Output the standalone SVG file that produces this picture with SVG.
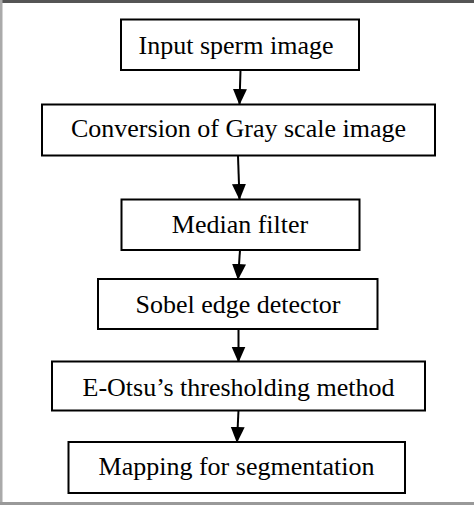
<svg xmlns="http://www.w3.org/2000/svg" width="474" height="505" viewBox="0 0 474 505">
<style>
.box{fill:#fff;stroke:#000;stroke-width:2}
.lbl{font-family:"Liberation Serif","Times New Roman",serif;font-size:26px;fill:#000;text-anchor:middle}
.con{stroke:#000;stroke-width:2;fill:none;marker-end:url(#ah)}
</style>
<defs>
<marker id="ah" markerUnits="userSpaceOnUse" markerWidth="16" markerHeight="16" refX="15" refY="7" orient="auto" viewBox="0 0 16 14">
<path d="M0,0 L16,7 L0,14 Z" fill="#000"/>
</marker>
</defs>
<rect x="0" y="0" width="474" height="505" fill="#fff"/>
<rect x="0" y="0" width="474" height="3" fill="#555"/>
<rect x="0" y="0" width="2.5" height="505" fill="#aaa"/>
<rect x="0" y="502" width="474" height="3" fill="#999"/>
<g id="connectors">
<path class="con" d="M240.5,70 L239.5,104"/>
<path class="con" d="M238,156 L239.5,199"/>
<path class="con" d="M240,250 L238,279"/>
<path class="con" d="M238.5,329 L238.5,361.5"/>
<path class="con" d="M238.5,410 L237,442"/>
</g>
<g id="n1"><rect class="box" x="121" y="19.5" width="238" height="50.5"/><text class="lbl" x="236" y="54">Input sperm image</text></g>
<g id="n2"><rect class="box" x="42" y="104.5" width="393" height="51"/><text class="lbl" x="238.5" y="137">Conversion of Gray scale image</text></g>
<g id="n3"><rect class="box" x="121.5" y="199.5" width="238" height="50.5"/><text class="lbl" x="240" y="233">Median filter</text></g>
<g id="n4"><rect class="box" x="98" y="279" width="279.5" height="50"/><text class="lbl" x="238" y="312.5">Sobel edge detector</text></g>
<g id="n5"><rect class="box" x="52" y="361.5" width="373" height="49"/><text class="lbl" x="238.5" y="395.5">E-Otsu’s thresholding method</text></g>
<g id="n6"><rect class="box" x="68.5" y="442" width="336.5" height="51"/><text class="lbl" x="236.5" y="475">Mapping for segmentation</text></g>
</svg>
